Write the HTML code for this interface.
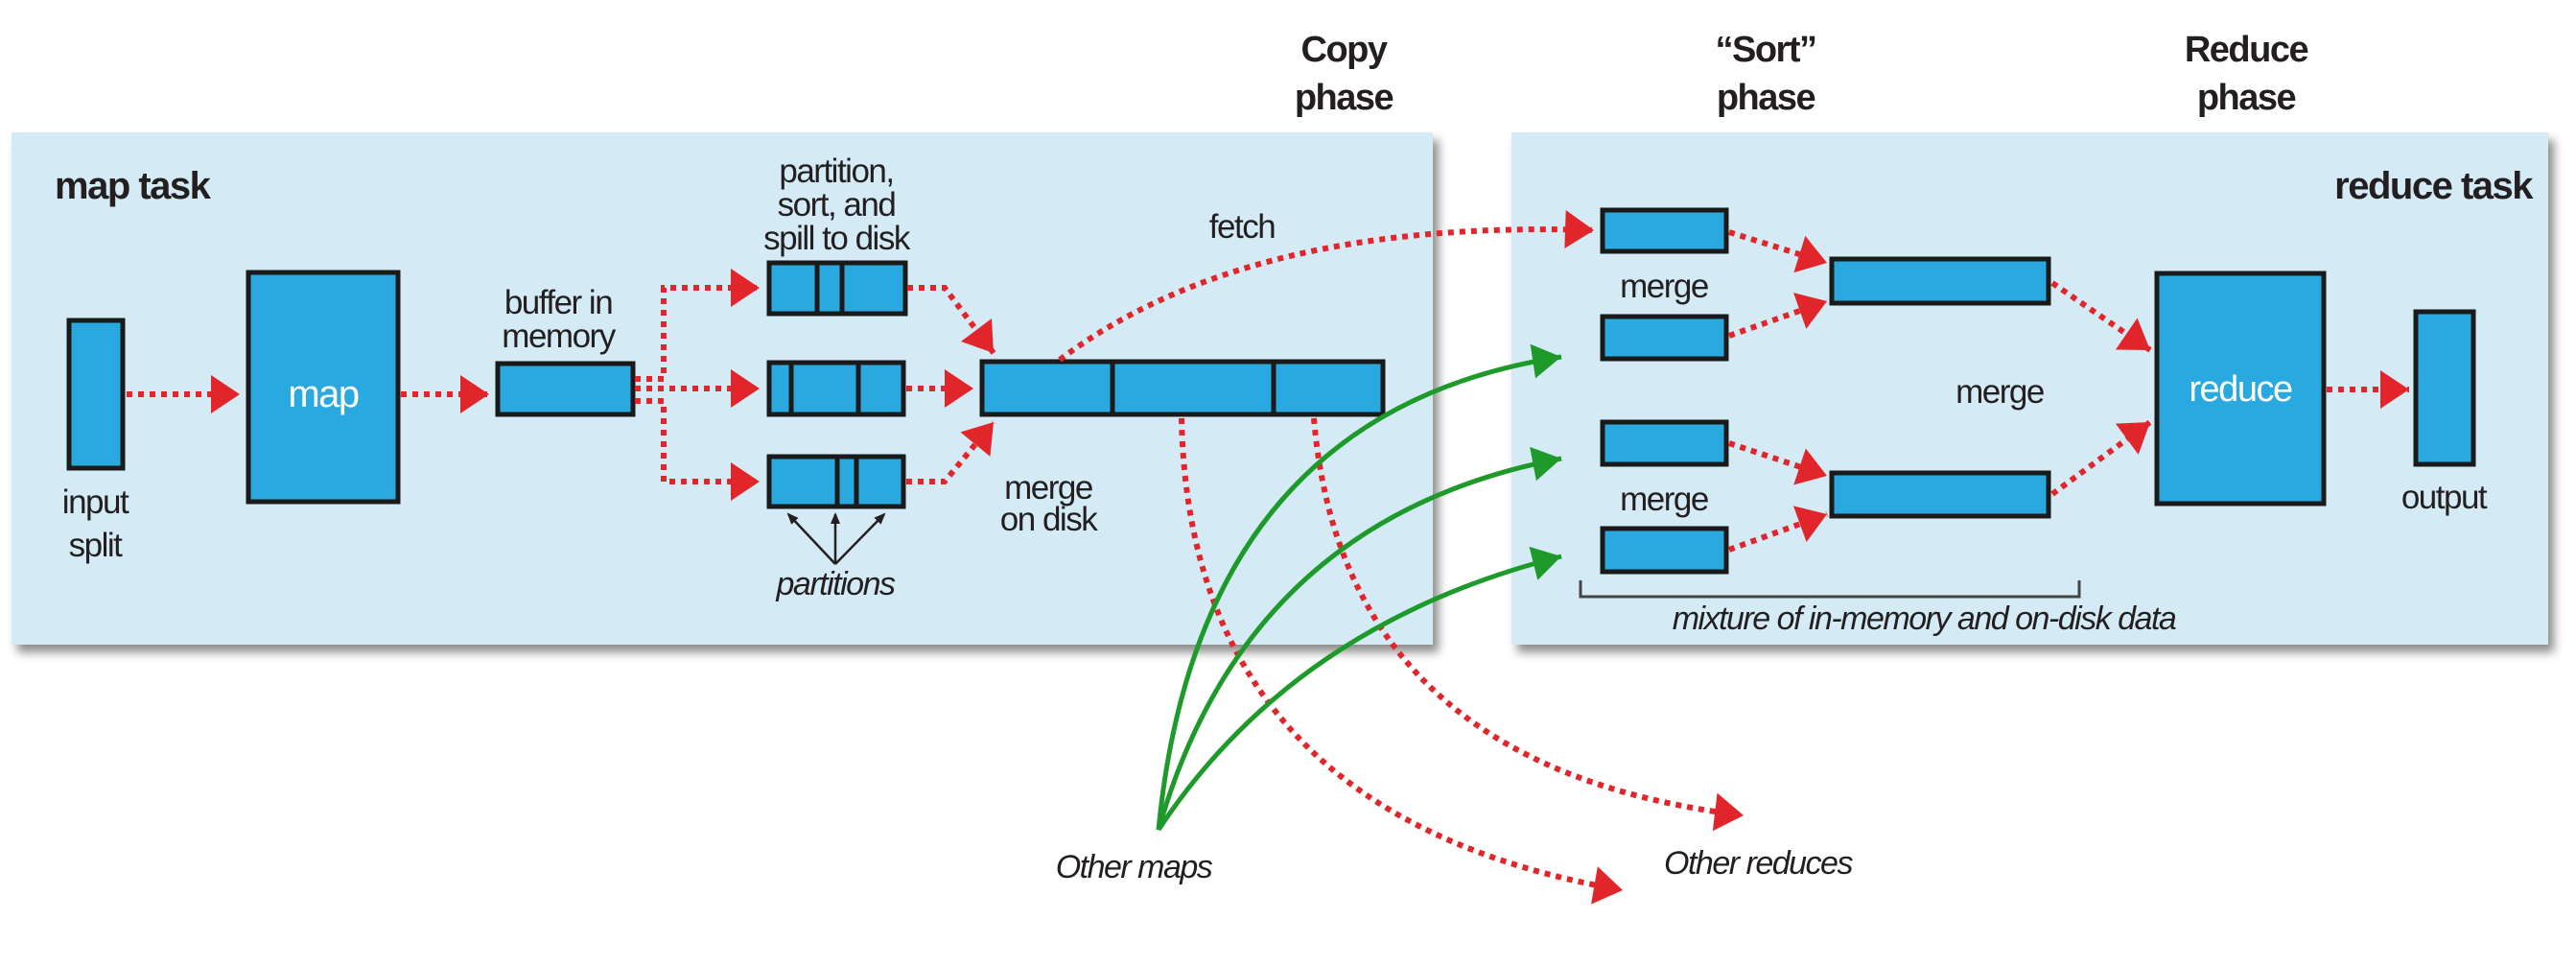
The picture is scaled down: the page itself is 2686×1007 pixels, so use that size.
<!DOCTYPE html>
<html><head><meta charset="utf-8"><style>
html,body{margin:0;padding:0;background:#fff}
svg text{font-family:"Liberation Sans Narrow","Liberation Sans",sans-serif;fill:#231f20;letter-spacing:-1.5px}
</style></head><body>
<svg width="2686" height="1002" viewBox="0 0 2686 1002" xmlns="http://www.w3.org/2000/svg">
<defs>
<marker id="r" markerWidth="10" markerHeight="10" refX="8" refY="5" orient="auto" markerUnits="userSpaceOnUse" viewBox="0 0 10 10" style="overflow:visible">
<path d="M-22,-15 L8,5 L-22,25 Z" fill="#e0262b"/>
</marker>
<marker id="g" markerWidth="10" markerHeight="10" refX="8" refY="5" orient="auto" markerUnits="userSpaceOnUse" viewBox="0 0 10 10" style="overflow:visible">
<path d="M-22,-13 L8,5 L-22,23 Z" fill="#1e9a2a"/>
</marker>
<marker id="k" markerWidth="10" markerHeight="10" refX="5" refY="5" orient="auto" markerUnits="userSpaceOnUse" viewBox="0 0 10 10" style="overflow:visible">
<path d="M-5,0 L7,5 L-5,10 Z" fill="#231f20"/>
</marker>
<filter id="sh" x="-5%" y="-5%" width="115%" height="120%"><feDropShadow dx="6" dy="8" stdDeviation="5" flood-color="#000" flood-opacity="0.45"/></filter>
</defs>

<rect x="12" y="138" width="1482" height="534" fill="#d4ebf6" filter="url(#sh)"/>
<rect x="1576" y="138" width="1081" height="534" fill="#d4ebf6" filter="url(#sh)"/>

<g font-weight="bold" font-size="38" text-anchor="middle">
<text x="1401" y="64">Copy</text><text x="1401" y="114">phase</text>
<text x="1841" y="64">“Sort”</text><text x="1841" y="114">phase</text>
<text x="2342" y="64">Reduce</text><text x="2342" y="114">phase</text>
</g>
<text x="57" y="207" font-weight="bold" font-size="40">map task</text>
<text x="2640" y="207" font-weight="bold" font-size="40" text-anchor="end">reduce task</text>

<g fill="#29a9e0" stroke="#1a1a1a" stroke-width="5">
<rect x="72" y="334" width="56" height="154"/>
<rect x="259" y="284" width="156" height="239"/>
<rect x="519" y="379" width="141" height="53"/>
<rect x="802" y="274" width="142" height="53"/>
<rect x="802" y="378" width="140" height="54"/>
<rect x="802" y="476" width="140" height="52"/>
<rect x="1024" y="377" width="418" height="55"/>
<rect x="1671" y="219" width="129" height="43"/>
<rect x="1671" y="330" width="129" height="44"/>
<rect x="1671" y="440" width="129" height="44"/>
<rect x="1671" y="551" width="129" height="45"/>
<rect x="1910" y="270" width="226" height="46"/>
<rect x="1910" y="493" width="226" height="45"/>
<rect x="2249" y="285" width="174" height="240"/>
<rect x="2519" y="325" width="60" height="159"/>
</g>
<g stroke="#1a1a1a" stroke-width="5">
<line x1="852" y1="274" x2="852" y2="327"/><line x1="878" y1="274" x2="878" y2="327"/>
<line x1="825" y1="378" x2="825" y2="432"/><line x1="895" y1="378" x2="895" y2="432"/>
<line x1="873" y1="476" x2="873" y2="528"/><line x1="893" y1="476" x2="893" y2="528"/>
<line x1="1160" y1="377" x2="1160" y2="432"/><line x1="1328" y1="377" x2="1328" y2="432"/>
</g>

<g font-size="35" text-anchor="middle">
<text x="99" y="535">input</text><text x="99" y="580">split</text>
<text x="337" y="424" style="fill:#fff" font-size="40">map</text>
<text x="582" y="327">buffer in</text><text x="582" y="362">memory</text>
<text x="872" y="190">partition,</text><text x="872" y="225">sort, and</text><text x="872" y="260">spill to disk</text>
<text x="1093" y="520">merge</text><text x="1093" y="553">on disk</text>
<text x="1295" y="248">fetch</text>
<text x="1735" y="310">merge</text><text x="1735" y="532">merge</text>
<text x="2085" y="420">merge</text>
<text x="2336" y="418" style="fill:#fff" font-size="38">reduce</text>
<text x="2548" y="530">output</text>
</g>
<g font-size="34" font-style="italic" text-anchor="middle">
<text x="871" y="620">partitions</text>
<text x="1182" y="915">Other maps</text>
<text x="1833" y="911">Other reduces</text>
<text x="2006" y="656">mixture of in-memory and on-disk data</text>
</g>

<g stroke="#231f20" stroke-width="2.5" fill="none">
<line x1="871" y1="588" x2="822" y2="536" marker-end="url(#k)"/>
<line x1="871" y1="588" x2="871" y2="536" marker-end="url(#k)"/>
<line x1="871" y1="588" x2="922" y2="536" marker-end="url(#k)"/>
</g>
<path d="M1648 605 V622 H2168 V605" stroke="#444" stroke-width="3" fill="none"/>

<g stroke="#e0262b" stroke-width="6" stroke-dasharray="6 6" fill="none">
<line x1="132" y1="411" x2="250" y2="411" marker-end="url(#r)"/>
<line x1="418" y1="411" x2="510" y2="411" marker-end="url(#r)"/>
<line x1="662" y1="405" x2="792" y2="405" marker-end="url(#r)"/>
<path d="M662 395 H692 V300 H792" marker-end="url(#r)"/>
<path d="M662 418 H692 V502 H792" marker-end="url(#r)"/>
<path d="M946 300 H985 L1036 368" marker-end="url(#r)"/>
<line x1="945" y1="405" x2="1015" y2="405" marker-end="url(#r)"/>
<path d="M945 502 H985 L1036 440" marker-end="url(#r)"/>
<path d="M1105 375 Q1300 228 1662 240" marker-end="url(#r)"/>
<path d="M1232 436 Q1240 850 1692 928" marker-end="url(#r)"/>
<path d="M1370 436 Q1400 800 1818 850" marker-end="url(#r)"/>
<line x1="1803" y1="242" x2="1905" y2="274" marker-end="url(#r)"/>
<line x1="1803" y1="350" x2="1905" y2="314" marker-end="url(#r)"/>
<line x1="1803" y1="462" x2="1905" y2="496" marker-end="url(#r)"/>
<line x1="1803" y1="573" x2="1905" y2="536" marker-end="url(#r)"/>
<line x1="2140" y1="295" x2="2242" y2="365" marker-end="url(#r)"/>
<line x1="2140" y1="515" x2="2242" y2="440" marker-end="url(#r)"/>
<line x1="2426" y1="406" x2="2512" y2="406" marker-end="url(#r)"/>
</g>

<g stroke="#1e9a2a" stroke-width="5" fill="none">
<path d="M1208 865 Q1250 430 1628 372" marker-end="url(#g)"/>
<path d="M1208 865 Q1300 540 1628 478" marker-end="url(#g)"/>
<path d="M1208 865 Q1350 650 1628 580" marker-end="url(#g)"/>
</g>
</svg>
</body></html>
